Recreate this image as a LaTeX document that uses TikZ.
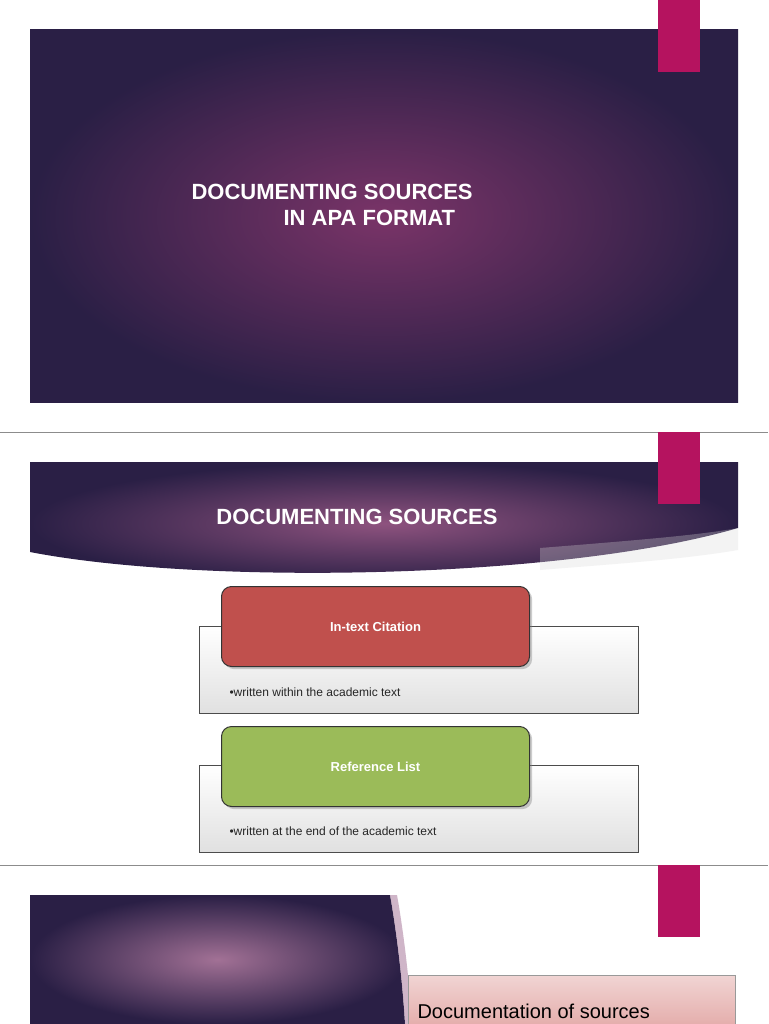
\documentclass[tikz,border=0pt]{standalone}
\usepackage{fontspec}
\setmainfont{Liberation Sans}
\usetikzlibrary{shadows}
\definecolor{pdark}{HTML}{2A1F45}
\definecolor{plight}{HTML}{7A3468}
\definecolor{tabc}{HTML}{B5135F}
\definecolor{redb}{HTML}{C0504D}
\definecolor{greenb}{HTML}{9BBB59}
\definecolor{pinkb}{HTML}{E3AAA8}
\tikzset{x=1pt,y=-1pt,
 tab/.style={fill=tabc,draw=none},
 sep/.style={draw=black!45,line width=0.6pt},
 title/.style={text=white,font=\bfseries\fontsize{22}{26}\selectfont,align=left},
 greybox/.style={draw=black!70,line width=0.6pt,top color=white,bottom color=black!12},
 head/.style={rounded corners=10pt,draw=black!80,line width=1pt,text=white,font=\bfseries\fontsize{13}{15}\selectfont,drop shadow={opacity=0.4}},
 bullet/.style={anchor=west,font=\fontsize{12}{14}\selectfont,text=black!85}}
\begin{document}
\begin{tikzpicture}
\useasboundingbox (0,0) rectangle (768,1024);
\fill[white] (0,0) rectangle (768,1024);
% slide 1
\shade[inner color=plight,outer color=pdark] (30,30) rectangle (738,402);
\fill[tab] (658,0) rectangle (700,72);
\node[title,anchor=west] (t1) at (188,205) {DOCUMENTING SOURCES\\\hspace*{92pt}IN APA FORMAT};
% separator
\draw[sep] (0,432) -- (768,432);
% slide 2
\shade[inner color=plight!85,outer color=pdark] (30,462) -- (738,462) -- (738,528) .. controls (560,580) and (200,585) .. (30,552) -- cycle;
\fill[black!15,opacity=0.3] (540,548) .. controls (640,540) and (700,535) .. (738,528) -- (738,550) .. controls (680,560) and (600,565) .. (540,570) -- cycle;
\fill[tab] (658,432) rectangle (700,504);
\node[title,anchor=center] (t2) at (357,517) {DOCUMENTING SOURCES};
\node[greybox,minimum width=439pt,minimum height=87pt,anchor=north west] (g1) at (199,626) {};
\node[head,fill=redb,minimum width=308pt,minimum height=80pt,anchor=north west] (h1) at (221,586) {In-text Citation};
\node[bullet] (b1) at (226,692) {•written within the academic text};
\node[greybox,minimum width=439pt,minimum height=87pt,anchor=north west] (g2) at (199,765) {};
\node[head,fill=greenb,minimum width=308pt,minimum height=80pt,anchor=north west] (h2) at (221,726) {Reference List};
\node[bullet] (b2) at (226,831) {•written at the end of the academic text};
% separator
\draw[sep] (0,865) -- (768,865);
% slide 3
\shade[inner color=plight!70,outer color=pdark] (30,895) -- (390,895) .. controls (398,940) and (403,990) .. (405,1024) -- (30,1024) -- cycle;
\fill[plight!60,opacity=0.6] (390,895) -- (397,895) .. controls (405,940) and (410,990) .. (412,1024) -- (405,1024) .. controls (403,990) and (398,940) .. (390,895) -- cycle;
\fill[tab] (658,865) rectangle (700,937);
\shade[top color=pinkb!50,bottom color=pinkb,draw=black!40] (408,975) rectangle (735,1030);
\node[anchor=west,font=\fontsize{20}{24}\selectfont] (d3) at (414,1011) {Documentation of sources};
\end{tikzpicture}
\end{document}
